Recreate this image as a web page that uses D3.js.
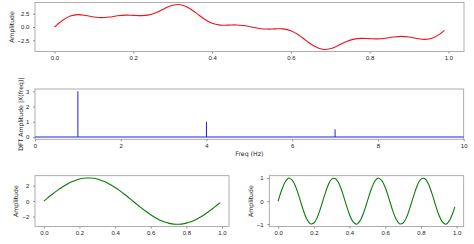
<!DOCTYPE html>
<html>
<head>
<meta charset="utf-8">
<script src="https://cdn.jsdelivr.net/npm/d3@7.9.0/dist/d3.min.js"></script>
<style>
  body { margin: 0; background: #fff; }
  svg { display: block; font-family: "DejaVu Sans", sans-serif; }
  .tick text { fill: #222; font-size: 6px; }
  .tick line { stroke: #444; stroke-width: 0.6; }
  .domain { display: none; }
  .frame { fill: none; stroke: #999; stroke-width: 0.8; }
  .label { fill: #222; font-size: 6.2px; }
</style>
</head>
<body>
<div id="chart"></div>
<script>
// sample times (s)
const timeSec = [0, 0.02, 0.04, 0.06, 0.08, 0.1, 0.12, 0.14, 0.16, 0.18,
  0.2, 0.22, 0.24, 0.26, 0.28, 0.3, 0.32, 0.34, 0.36, 0.38,
  0.4, 0.42, 0.44, 0.46, 0.48, 0.5, 0.52, 0.54, 0.56, 0.58,
  0.6, 0.62, 0.64, 0.66, 0.68, 0.7, 0.72, 0.74, 0.76, 0.78,
  0.8, 0.82, 0.84, 0.86, 0.88, 0.9, 0.92, 0.94, 0.96, 0.98, 0.99];

// combined signal (top panel)
const signalSum = [0, 1.24, 2.08, 2.34, 2.17, 1.88, 1.76, 1.88, 2.11, 2.23,
  2.2, 2.14, 2.29, 2.79, 3.51, 4.1, 4.2, 3.65, 2.62, 1.51,
  0.7, 0.36, 0.35, 0.39, 0.28, 0, -0.28, -0.39, -0.35, -0.36,
  -0.7, -1.51, -2.62, -3.65, -4.2, -4.1, -3.51, -2.79, -2.29, -2.14,
  -2.2, -2.23, -2.11, -1.88, -1.76, -1.88, -2.17, -2.34, -2.08, -1.24, -0.65];

// 1 Hz component (bottom left)
const signal1Hz = [0, 0.38, 0.75, 1.1, 1.45, 1.76, 2.05, 2.31, 2.53, 2.71,
  2.85, 2.95, 2.99, 2.99, 2.95, 2.85, 2.71, 2.53, 2.31, 2.05,
  1.76, 1.45, 1.1, 0.75, 0.38, 0, -0.38, -0.75, -1.1, -1.45,
  -1.76, -2.05, -2.31, -2.53, -2.71, -2.85, -2.95, -2.99, -2.99, -2.95,
  -2.85, -2.71, -2.53, -2.31, -2.05, -1.76, -1.45, -1.1, -0.75, -0.38, -0.19];

// 4 Hz component (bottom right)
const signal4Hz = [0, 0.48, 0.84, 1.0, 0.9, 0.59, 0.13, -0.37, -0.77, -0.98,
  -0.95, -0.69, -0.25, 0.25, 0.69, 0.95, 0.98, 0.77, 0.37, -0.13,
  -0.59, -0.9, -1.0, -0.84, -0.48, 0, 0.48, 0.84, 1.0, 0.9,
  0.59, 0.13, -0.37, -0.77, -0.98, -0.95, -0.69, -0.25, 0.25, 0.69,
  0.95, 0.98, 0.77, 0.37, -0.13, -0.59, -0.9, -1.0, -0.84, -0.48, -0.25];

// DFT
const freqHz = [0, 1, 2, 3, 4, 5, 6, 7, 8, 9, 10];
const dftAmp = [0, 3, 0, 0, 1, 0, 0, 0.5, 0, 0, 0];

const timeTicks = [0, 0.2, 0.4, 0.6, 0.8, 1.0];
const sumTicks = [-2.5, 0, 2.5];
const dftTicks = [0, 1, 2, 3];
const freqTicks = [0, 2, 4, 6, 8, 10];
const oneHzTicks = [-2, 0, 2];
const fourHzTicks = [-1, 0, 1];

const width = 474;
const height = 244;

const svg = d3.select('#chart')
  .append('svg')
  .attr('width', width)
  .attr('height', height);

// padded domain, like matplotlib's 5% margins
function padded(ext) {
  const pad = (ext[1] - ext[0]) * 0.05;
  return [ext[0] - pad, ext[1] + pad];
}

function drawPanel(box, opts) {
  const g = svg.append('g');

  const x = d3.scaleLinear().domain(opts.xDomain).range([box.left, box.right]);
  const y = d3.scaleLinear().domain(opts.yDomain).range([box.bottom, box.top]);

  g.append('g')
    .attr('transform', `translate(0, ${box.bottom})`)
    .call(d3.axisBottom(x).tickValues(opts.xTicks).tickFormat(opts.xFormat)
      .tickSize(2).tickPadding(2.6));

  g.append('g')
    .attr('transform', `translate(${box.left}, 0)`)
    .call(d3.axisLeft(y).tickValues(opts.yTicks).tickFormat(opts.yFormat)
      .tickSize(2).tickPadding(3.6));

  // minus sign like matplotlib
  g.selectAll('.tick text').text(function () {
    return d3.select(this).text().replace('-', '\u2212');
  });

  g.append('text')
    .attr('class', 'label')
    .attr('transform', `translate(${opts.yLabelX}, ${(box.top + box.bottom) / 2}) rotate(-90)`)
    .attr('text-anchor', 'middle')
    .attr('dy', '0.35em')
    .text(opts.yLabel);

  if (opts.xLabel) {
    g.append('text')
      .attr('class', 'label')
      .attr('x', (box.left + box.right) / 2)
      .attr('y', box.bottom + 15)
      .attr('text-anchor', 'middle')
      .attr('dy', '0.35em')
      .text(opts.xLabel);
  }

  g.append('rect')
    .attr('class', 'frame')
    .attr('x', box.left)
    .attr('y', box.top)
    .attr('width', box.right - box.left)
    .attr('height', box.bottom - box.top);

  return { g, x, y };
}

function drawLine(panel, xs, ys, color) {
  const line = d3.line()
    .x((d, i) => panel.x(xs[i]))
    .y((d) => panel.y(d))
    .curve(d3.curveCatmullRom.alpha(0.5));

  panel.g.append('path')
    .datum(ys)
    .attr('fill', 'none')
    .attr('stroke', color)
    .attr('stroke-width', 1.1)
    .attr('d', line);
}

const fmt1 = d3.format('.1f');

// top: combined signal
const sumPanel = drawPanel(
  { left: 35, right: 464, top: 2.5, bottom: 51.5 },
  {
    xDomain: padded([0, 0.99]),
    yDomain: padded(d3.extent(signalSum)),
    xTicks: timeTicks, xFormat: fmt1,
    yTicks: sumTicks, yFormat: fmt1,
    yLabel: 'Amplitude', yLabelX: 11.5,
  }
);
drawLine(sumPanel, timeSec, signalSum, '#e8141c');

// middle: DFT
const dftPanel = drawPanel(
  { left: 35, right: 463.7, top: 89, bottom: 139.3 },
  {
    xDomain: [0, 10],
    yDomain: padded([0, d3.max(dftAmp)]),
    xTicks: freqTicks, xFormat: d3.format('d'),
    yTicks: dftTicks, yFormat: d3.format('d'),
    yLabel: 'DFT Amplitude |X(freq)|', yLabelX: 20.5,
    xLabel: 'Freq (Hz)',
  }
);

dftPanel.g.append('g')
  .selectAll('line')
  .data(freqHz)
  .join('line')
  .attr('x1', (d) => dftPanel.x(d))
  .attr('x2', (d) => dftPanel.x(d))
  .attr('y1', dftPanel.y(0))
  .attr('y2', (d, i) => dftPanel.y(dftAmp[i]))
  .attr('stroke', '#2020e0')
  .attr('stroke-width', 1);

dftPanel.g.append('line')
  .attr('x1', dftPanel.x(d3.min(freqHz)))
  .attr('x2', dftPanel.x(d3.max(freqHz)))
  .attr('y1', dftPanel.y(0))
  .attr('y2', dftPanel.y(0))
  .attr('stroke', '#2020e0')
  .attr('stroke-width', 1.2);

// bottom left: 1 Hz
const oneHzPanel = drawPanel(
  { left: 35, right: 229, top: 175.7, bottom: 226.5 },
  {
    xDomain: padded([0, 0.99]),
    yDomain: padded(d3.extent(signal1Hz)),
    xTicks: timeTicks, xFormat: fmt1,
    yTicks: oneHzTicks, yFormat: d3.format('d'),
    yLabel: 'Amplitude', yLabelX: 16,
  }
);
drawLine(oneHzPanel, timeSec, signal1Hz, '#0a7a0a');

// bottom right: 4 Hz
const fourHzPanel = drawPanel(
  { left: 269.3, right: 463.7, top: 175.7, bottom: 226.5 },
  {
    xDomain: padded([0, 0.99]),
    yDomain: padded(d3.extent(signal4Hz)),
    xTicks: timeTicks, xFormat: fmt1,
    yTicks: fourHzTicks, yFormat: d3.format('d'),
    yLabel: 'Amplitude', yLabelX: 251,
  }
);
drawLine(fourHzPanel, timeSec, signal4Hz, '#0a7a0a');
</script>
</body>
</html>
